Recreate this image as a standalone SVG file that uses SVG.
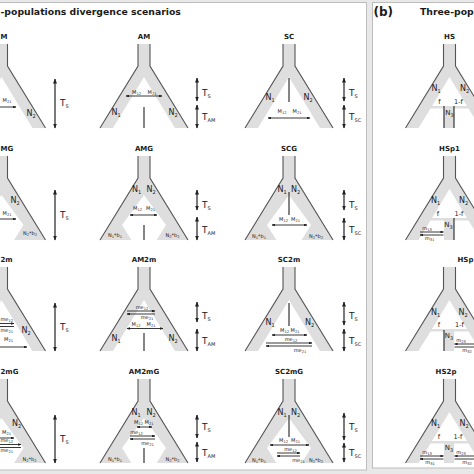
<svg xmlns="http://www.w3.org/2000/svg" width="474" height="474" viewBox="0 0 474 474">
<style>
text{font-family:"DejaVu Sans","Liberation Sans",sans-serif;fill:#1a1a1a}
.h{font-weight:bold;font-size:9.3px}
.hb{font-weight:bold;font-size:12px}
.tt{font-weight:bold;font-size:7px;text-anchor:middle}
.t0{font-weight:bold;font-size:7px}
.n{font-size:8px;text-anchor:middle}
.n7{font-size:7px;text-anchor:middle}
.ms{font-size:5px;text-anchor:middle}
.m0{font-size:5px}
.tl{font-size:9px}
.sb{font-size:5px}
.ss{font-size:3.6px}
.fl{font-size:6.5px;text-anchor:middle}
.bar{stroke:#333;stroke-width:1.2}
.mg{stroke:#222;stroke-width:0.9;fill:none}
.m1{marker-end:url(#h)}
.m2{marker-start:url(#h);marker-end:url(#h)}
.ta{stroke:#222;stroke-width:1.2;marker-start:url(#hT);marker-end:url(#hT)}
</style>
<defs>
<marker id="h" viewBox="0 0 10 8" refX="9" refY="4" markerWidth="3.5" markerHeight="2.8" markerUnits="userSpaceOnUse" orient="auto-start-reverse"><path d="M0,0L10,4L0,8z" fill="#222"/></marker>
<marker id="hT" viewBox="0 0 10 8" refX="9" refY="4" markerWidth="5" markerHeight="4" markerUnits="userSpaceOnUse" orient="auto-start-reverse"><path d="M0,0L10,4L0,8z" fill="#222"/></marker>
<g id="tA">
<path d="M-6,8H6V30L44,92H-44L-6,30Z" fill="#dedede"/>
<path d="M0,41L31.6,93H-31.6Z" fill="#fff"/>
<path d="M-6,8V30L-44,92M6,8V30L44,92" fill="none" stroke="#555" stroke-width="1.1"/>
</g>
<g id="tG">
<path d="M-6,8H6V30L44,92H-44L-6,30Z" fill="#dedede"/>
<path d="M0,47L22,77L12,93H-12L-22,77Z" fill="#fff"/>
<path d="M-6,8V30L-44,92M6,8V30L44,92" fill="none" stroke="#555" stroke-width="1.1"/>
</g>
<g id="tH">
<path d="M-6,8H6V30L44,92H-44L-6,30Z" fill="#dedede"/>
<path d="M0,41L17.5,70H-17.5Z" fill="#fff"/>
<path d="M-5.5,72.5V93H-31.6L-19,72.5Z" fill="#fff"/>
<path d="M4.5,72.5H19L31.6,93H4.5Z" fill="#fff"/>
<path d="M-6,8V30L-44,92M6,8V30L44,92" fill="none" stroke="#555" stroke-width="1.1"/>
</g>
</defs>

<rect width="474" height="474" fill="#e8e8e8"/>
<rect x="-2" y="2.5" width="368.5" height="467.5" fill="#fff" stroke="#bdbdbd"/>
<rect x="372.5" y="2.5" width="110" height="465.5" fill="#fff" stroke="#bdbdbd"/>
<text class="h" x="0.5" y="15">-populations divergence scenarios</text>
<text class="hb" x="373.5" y="16">(b)</text>
<text class="h" x="420" y="15">Three-pop</text>

<!-- column 1 -->
<g id="IM">
<use href="#tA" x="1.5" y="36"/>
<text class="t0" x="0.5" y="38.5">M</text>
<text class="ms" x="7" y="101.5">M<tspan class="ss" dy="1">21</tspan></text>
<text class="n" x="31" y="116">N<tspan class="sb" dy="1.5">2</tspan></text>
<text class="tl" x="60" y="106">T<tspan class="sb" dy="2">S</tspan></text>
</g>
<g id="IMG">
<use href="#tG" x="1.5" y="148"/>
<text class="t0" x="0.5" y="150.5">MG</text>
<text class="n" x="15" y="203">N<tspan class="sb" dy="1.5">2</tspan></text>
<text class="ms" x="7" y="215">M<tspan class="ss" dy="1">21</tspan></text>
<text class="ms" x="30" y="235">N<tspan class="ss" dy="1">2</tspan><tspan dy="-1">*b</tspan><tspan class="ss" dy="1">2</tspan></text>
<text class="tl" x="60" y="218">T<tspan class="sb" dy="2">S</tspan></text>
</g>
<g id="IM2m">
<use href="#tA" x="1.5" y="259"/>
<text class="t0" x="0.5" y="261.5">2m</text>
<text class="m0" x="0.5" y="320.5">me<tspan class="ss" dy="1">12</tspan></text>
<text class="m0" x="0.5" y="331.5">me<tspan class="ss" dy="1">21</tspan></text>
<text class="ms" x="8.5" y="341">M<tspan class="ss" dy="1">21</tspan></text>
<text class="n" x="26" y="333">N<tspan class="sb" dy="1.5">2</tspan></text>
<text class="tl" x="60" y="330">T<tspan class="sb" dy="2">S</tspan></text>
</g>
<g id="IM2mG">
<use href="#tG" x="1.5" y="371"/>
<text class="t0" x="0.5" y="373.5">2mG</text>
<text class="n" x="16.5" y="426">N<tspan class="sb" dy="1.5">2</tspan></text>
<text class="ms" x="6.5" y="434">M<tspan class="ss" dy="1">21</tspan></text>
<text class="m0" x="0.5" y="442">me<tspan class="ss" dy="1">12</tspan></text>
<text class="m0" x="0.5" y="452">me<tspan class="ss" dy="1">21</tspan></text>
<text class="ms" x="29.5" y="461">N<tspan class="ss" dy="1">2</tspan><tspan dy="-1">*b</tspan><tspan class="ss" dy="1">2</tspan></text>
<text class="tl" x="60" y="442">T<tspan class="sb" dy="2">S</tspan></text>
</g>

<!-- column 2 -->
<g id="AM">
<use href="#tA" x="144" y="36"/>
<text class="tt" x="144" y="38.5">AM</text>
<text class="ms" x="136.5" y="94">M<tspan class="ss" dy="1">12</tspan></text>
<text class="ms" x="152" y="94">M<tspan class="ss" dy="1">21</tspan></text>
<line class="bar" x1="144" y1="107" x2="144" y2="128"/>
<text class="n" x="116" y="115">N<tspan class="sb" dy="1.5">1</tspan></text>
<text class="n" x="173" y="115">N<tspan class="sb" dy="1.5">2</tspan></text>
<text class="tl" x="202" y="96">T<tspan class="sb" dy="2">S</tspan></text>
<text class="tl" x="202" y="120">T<tspan class="sb" dy="2">AM</tspan></text>
</g>
<g id="AMG">
<use href="#tG" x="144" y="148"/>
<text class="tt" x="144" y="150.5">AMG</text>
<text class="n" x="136.5" y="192">N<tspan class="sb" dy="1.5">1</tspan></text>
<text class="n" x="151" y="192">N<tspan class="sb" dy="1.5">2</tspan></text>
<text class="ms" x="137.5" y="210">M<tspan class="ss" dy="1">12</tspan></text>
<text class="ms" x="150.5" y="210">M<tspan class="ss" dy="1">21</tspan></text>
<line class="bar" x1="144" y1="225" x2="144" y2="240"/>
<text class="ms" x="115" y="237">N<tspan class="ss" dy="1">1</tspan><tspan dy="-1">*b</tspan><tspan class="ss" dy="1">1</tspan></text>
<text class="ms" x="172.5" y="237">N<tspan class="ss" dy="1">2</tspan><tspan dy="-1">*b</tspan><tspan class="ss" dy="1">2</tspan></text>
<text class="tl" x="202" y="208">T<tspan class="sb" dy="2">S</tspan></text>
<text class="tl" x="202" y="233">T<tspan class="sb" dy="2">AM</tspan></text>
</g>
<g id="AM2m">
<use href="#tA" x="144" y="259"/>
<text class="tt" x="144" y="261.5">AM2m</text>
<text class="ms" x="142" y="308.5">me<tspan class="ss" dy="1">12</tspan></text>
<text class="ms" x="147" y="318.5">me<tspan class="ss" dy="1">21</tspan></text>
<text class="ms" x="136" y="325.5">M<tspan class="ss" dy="1">12</tspan></text>
<text class="ms" x="151" y="325.5">M<tspan class="ss" dy="1">21</tspan></text>
<line class="bar" x1="144" y1="333" x2="144" y2="351"/>
<text class="n" x="116" y="341">N<tspan class="sb" dy="1.5">1</tspan></text>
<text class="n" x="173" y="341">N<tspan class="sb" dy="1.5">2</tspan></text>
<text class="tl" x="202" y="319">T<tspan class="sb" dy="2">S</tspan></text>
<text class="tl" x="202" y="344">T<tspan class="sb" dy="2">AM</tspan></text>
</g>
<g id="AM2mG">
<use href="#tG" x="144" y="371"/>
<text class="tt" x="144" y="373.5">AM2mG</text>
<text class="n" x="136" y="415">N<tspan class="sb" dy="1.5">1</tspan></text>
<text class="n" x="151" y="415">N<tspan class="sb" dy="1.5">2</tspan></text>
<text class="ms" x="138.5" y="424">M<tspan class="ss" dy="1">12</tspan></text>
<text class="ms" x="149" y="424">M<tspan class="ss" dy="1">21</tspan></text>
<text class="ms" x="136.5" y="434">me<tspan class="ss" dy="1">12</tspan></text>
<text class="ms" x="147.5" y="445">me<tspan class="ss" dy="1">21</tspan></text>
<line class="bar" x1="144" y1="448" x2="144" y2="463"/>
<text class="ms" x="115" y="461">N<tspan class="ss" dy="1">1</tspan><tspan dy="-1">*b</tspan><tspan class="ss" dy="1">1</tspan></text>
<text class="ms" x="172.5" y="461">N<tspan class="ss" dy="1">2</tspan><tspan dy="-1">*b</tspan><tspan class="ss" dy="1">2</tspan></text>
<text class="tl" x="202" y="430">T<tspan class="sb" dy="2">S</tspan></text>
<text class="tl" x="202" y="456">T<tspan class="sb" dy="2">AM</tspan></text>
</g>

<!-- column 3 -->
<g id="SC">
<use href="#tA" x="289" y="36"/>
<text class="tt" x="289" y="38.5">SC</text>
<line class="bar" x1="289" y1="78" x2="289" y2="102"/>
<text class="n" x="270" y="100">N<tspan class="sb" dy="1.5">1</tspan></text>
<text class="n" x="308" y="100">N<tspan class="sb" dy="1.5">2</tspan></text>
<text class="ms" x="282" y="113">M<tspan class="ss" dy="1">12</tspan></text>
<text class="ms" x="297" y="113">M<tspan class="ss" dy="1">21</tspan></text>
<text class="tl" x="349" y="96">T<tspan class="sb" dy="2">S</tspan></text>
<text class="tl" x="349" y="120">T<tspan class="sb" dy="2">SC</tspan></text>
</g>
<g id="SCG">
<use href="#tG" x="289" y="148"/>
<text class="tt" x="289" y="150.5">SCG</text>
<text class="n" x="282" y="192">N<tspan class="sb" dy="1.5">1</tspan></text>
<text class="n" x="295.5" y="192">N<tspan class="sb" dy="1.5">2</tspan></text>
<line class="bar" x1="289" y1="192" x2="289" y2="215"/>
<text class="ms" x="283.5" y="221">M<tspan class="ss" dy="1">12</tspan></text>
<text class="ms" x="295.5" y="221">M<tspan class="ss" dy="1">21</tspan></text>
<text class="ms" x="259" y="238">N<tspan class="ss" dy="1">1</tspan><tspan dy="-1">*b</tspan><tspan class="ss" dy="1">1</tspan></text>
<text class="ms" x="316" y="238">N<tspan class="ss" dy="1">2</tspan><tspan dy="-1">*b</tspan><tspan class="ss" dy="1">2</tspan></text>
<text class="tl" x="349" y="208">T<tspan class="sb" dy="2">S</tspan></text>
<text class="tl" x="349" y="233">T<tspan class="sb" dy="2">SC</tspan></text>
</g>
<g id="SC2m">
<use href="#tA" x="289" y="259"/>
<text class="tt" x="289" y="261.5">SC2m</text>
<text class="n" x="270" y="325">N<tspan class="sb" dy="1.5">1</tspan></text>
<text class="n" x="309.5" y="325">N<tspan class="sb" dy="1.5">2</tspan></text>
<line class="bar" x1="289" y1="303" x2="289" y2="326"/>
<text class="ms" x="284.5" y="332">M<tspan class="ss" dy="1">12</tspan></text>
<text class="ms" x="295" y="332">M<tspan class="ss" dy="1">21</tspan></text>
<text class="ms" x="291" y="341">me<tspan class="ss" dy="1">12</tspan></text>
<text class="ms" x="300" y="351.5">me<tspan class="ss" dy="1">21</tspan></text>
<text class="tl" x="349" y="319">T<tspan class="sb" dy="2">S</tspan></text>
<text class="tl" x="349" y="344">T<tspan class="sb" dy="2">SC</tspan></text>
</g>
<g id="SC2mG">
<use href="#tG" x="289" y="371"/>
<text class="tt" x="289" y="373.5">SC2mG</text>
<text class="n" x="282" y="415">N<tspan class="sb" dy="1.5">1</tspan></text>
<text class="n" x="295.5" y="415">N<tspan class="sb" dy="1.5">2</tspan></text>
<line class="bar" x1="289" y1="415" x2="289" y2="437"/>
<text class="ms" x="283.5" y="442">M<tspan class="ss" dy="1">12</tspan></text>
<text class="ms" x="295.5" y="442">M<tspan class="ss" dy="1">21</tspan></text>
<text class="ms" x="290.5" y="451">me<tspan class="ss" dy="1">12</tspan></text>
<text class="ms" x="298.5" y="461.5">me<tspan class="ss" dy="1">21</tspan></text>
<text class="ms" x="259" y="461.5">N<tspan class="ss" dy="1">1</tspan><tspan dy="-1">*b</tspan><tspan class="ss" dy="1">1</tspan></text>
<text class="ms" x="316" y="461.5">N<tspan class="ss" dy="1">2</tspan><tspan dy="-1">*b</tspan><tspan class="ss" dy="1">2</tspan></text>
<text class="tl" x="349" y="430">T<tspan class="sb" dy="2">S</tspan></text>
<text class="tl" x="349" y="456">T<tspan class="sb" dy="2">SC</tspan></text>
</g>

<!-- column 4 -->
<g id="HS">
<use href="#tH" x="449.5" y="36"/>
<text class="tt" x="449.5" y="38.5">HS</text>
<text class="n" x="436" y="91">N<tspan class="sb" dy="1.5">1</tspan></text>
<text class="n" x="464.5" y="91">N<tspan class="sb" dy="1.5">2</tspan></text>
<text class="fl" x="439.5" y="104">f</text>
<text class="fl" x="458.5" y="104">1-f</text>
<text class="n7" x="449.5" y="115">N<tspan class="sb" dy="1.5">3</tspan></text>
<line class="bar" x1="444" y1="106" x2="444" y2="128"/>
<line class="bar" x1="454" y1="106" x2="454" y2="128"/>
</g>
<g id="HSp1">
<use href="#tH" x="449.5" y="148"/>
<text class="tt" x="449.5" y="150.5">HSp1</text>
<text class="n" x="435.5" y="203">N<tspan class="sb" dy="1.5">1</tspan></text>
<text class="n" x="463.5" y="203">N<tspan class="sb" dy="1.5">2</tspan></text>
<text class="fl" x="438" y="216">f</text>
<text class="fl" x="459" y="216">1-f</text>
<text class="n7" x="448.5" y="227">N<tspan class="sb" dy="1.5">3</tspan></text>
<line class="bar" x1="454" y1="218" x2="454" y2="240"/>
<text class="ms" x="427" y="230">m<tspan class="ss" dy="1">13</tspan></text>
<text class="ms" x="429.5" y="240">m<tspan class="ss" dy="1">31</tspan></text>
</g>
<g id="HSp">
<use href="#tH" x="449.5" y="259"/>
<text class="t0" x="457.5" y="261.5">HSp</text>
<text class="n" x="435.5" y="315">N<tspan class="sb" dy="1.5">1</tspan></text>
<text class="n" x="463" y="315">N<tspan class="sb" dy="1.5">2</tspan></text>
<text class="fl" x="439" y="327">f</text>
<text class="fl" x="459.5" y="327">1-f</text>
<text class="n7" x="449" y="338">N<tspan class="sb" dy="1.5">3</tspan></text>
<line class="bar" x1="444" y1="330" x2="444" y2="351"/>
<text class="ms" x="461" y="342">m<tspan class="ss" dy="1">23</tspan></text>
<text class="ms" x="467" y="352">m<tspan class="ss" dy="1">32</tspan></text>
</g>
<g id="HS2p">
<use href="#tH" x="449.5" y="371"/>
<text class="tt" x="446" y="373.5">HS2p</text>
<text class="n" x="435.5" y="426">N<tspan class="sb" dy="1.5">1</tspan></text>
<text class="n" x="464" y="426">N<tspan class="sb" dy="1.5">2</tspan></text>
<text class="fl" x="439" y="439">f</text>
<text class="fl" x="458" y="439">1-f</text>
<text class="n7" x="449" y="450">N<tspan class="sb" dy="1.5">3</tspan></text>
<text class="ms" x="427" y="454">m<tspan class="ss" dy="1">13</tspan></text>
<text class="ms" x="430" y="464">m<tspan class="ss" dy="1">31</tspan></text>
<text class="ms" x="461" y="454">m<tspan class="ss" dy="1">23</tspan></text>
<text class="ms" x="467" y="464">m<tspan class="ss" dy="1">32</tspan></text>
</g>

<g id="connectors">
<line class="ta" x1="55" y1="79" x2="55" y2="128"/>
<line class="ta" x1="55" y1="190" x2="55" y2="240"/>
<line class="ta" x1="55" y1="303" x2="55" y2="351"/>
<line class="ta" x1="55" y1="415" x2="55" y2="463"/>
<line class="ta" x1="197" y1="78" x2="197" y2="101"/>
<line class="ta" x1="197" y1="105" x2="197" y2="128"/>
<line class="ta" x1="197" y1="190" x2="197" y2="210"/>
<line class="ta" x1="197" y1="217" x2="197" y2="240"/>
<line class="ta" x1="197" y1="302" x2="197" y2="322"/>
<line class="ta" x1="197" y1="329" x2="197" y2="351"/>
<line class="ta" x1="197" y1="415" x2="197" y2="438"/>
<line class="ta" x1="197" y1="442" x2="197" y2="462"/>
<line class="ta" x1="344" y1="78" x2="344" y2="101"/>
<line class="ta" x1="344" y1="105" x2="344" y2="128"/>
<line class="ta" x1="344" y1="190" x2="344" y2="210"/>
<line class="ta" x1="344" y1="218" x2="344" y2="240"/>
<line class="ta" x1="344" y1="302" x2="344" y2="325"/>
<line class="ta" x1="344" y1="329" x2="344" y2="351"/>
<line class="ta" x1="344" y1="413" x2="344" y2="440"/>
<line class="ta" x1="344" y1="443" x2="344" y2="462"/>
<line class="mg m2" x1="-12.5" y1="107" x2="16" y2="107"/>
<line class="mg m2" x1="-12.5" y1="219" x2="16" y2="219"/>
<line class="mg m1" x1="-16" y1="323.5" x2="14" y2="323.5"/>
<line class="mg m1" x1="14" y1="326.5" x2="-16" y2="326.5"/>
<line class="mg m2" x1="-24" y1="347" x2="27" y2="347"/>
<line class="mg m2" x1="-11" y1="438" x2="14" y2="438"/>
<line class="mg m1" x1="-18" y1="444.5" x2="21" y2="444.5"/>
<line class="mg m1" x1="21" y1="447.5" x2="-18" y2="447.5"/>
<line class="mg m2" x1="126" y1="96" x2="162" y2="96"/>
<line class="mg m2" x1="130" y1="215" x2="157" y2="215"/>
<line class="mg m1" x1="127" y1="311" x2="155" y2="311"/>
<line class="mg m1" x1="155" y1="314" x2="127" y2="314"/>
<line class="mg m2" x1="127" y1="328.5" x2="163" y2="328.5"/>
<line class="mg m2" x1="137" y1="427" x2="152" y2="427"/>
<line class="mg m1" x1="130" y1="436" x2="155" y2="436"/>
<line class="mg m1" x1="155" y1="439" x2="130" y2="439"/>
<line class="mg m2" x1="268" y1="118" x2="310" y2="118"/>
<line class="mg m2" x1="272" y1="225" x2="307" y2="225"/>
<line class="mg m2" x1="272" y1="335" x2="307" y2="335"/>
<line class="mg m1" x1="266" y1="343" x2="312" y2="343"/>
<line class="mg m1" x1="312" y1="346" x2="266" y2="346"/>
<line class="mg m2" x1="270" y1="445" x2="309" y2="445"/>
<line class="mg m1" x1="277" y1="453" x2="300" y2="453"/>
<line class="mg m1" x1="300" y1="456" x2="277" y2="456"/>
<line class="mg m1" x1="420" y1="232" x2="443.5" y2="232"/>
<line class="mg m1" x1="443.5" y1="235" x2="420" y2="235"/>
<line class="mg m1" x1="480" y1="344" x2="454.5" y2="344"/>
<line class="mg m1" x1="454.5" y1="347" x2="480" y2="347"/>
<line class="mg m1" x1="420" y1="456" x2="443.5" y2="456"/>
<line class="mg m1" x1="443.5" y1="459" x2="420" y2="459"/>
<line class="mg m1" x1="480" y1="456" x2="454.5" y2="456"/>
<line class="mg m1" x1="454.5" y1="459" x2="480" y2="459"/>
</g>
</svg>
